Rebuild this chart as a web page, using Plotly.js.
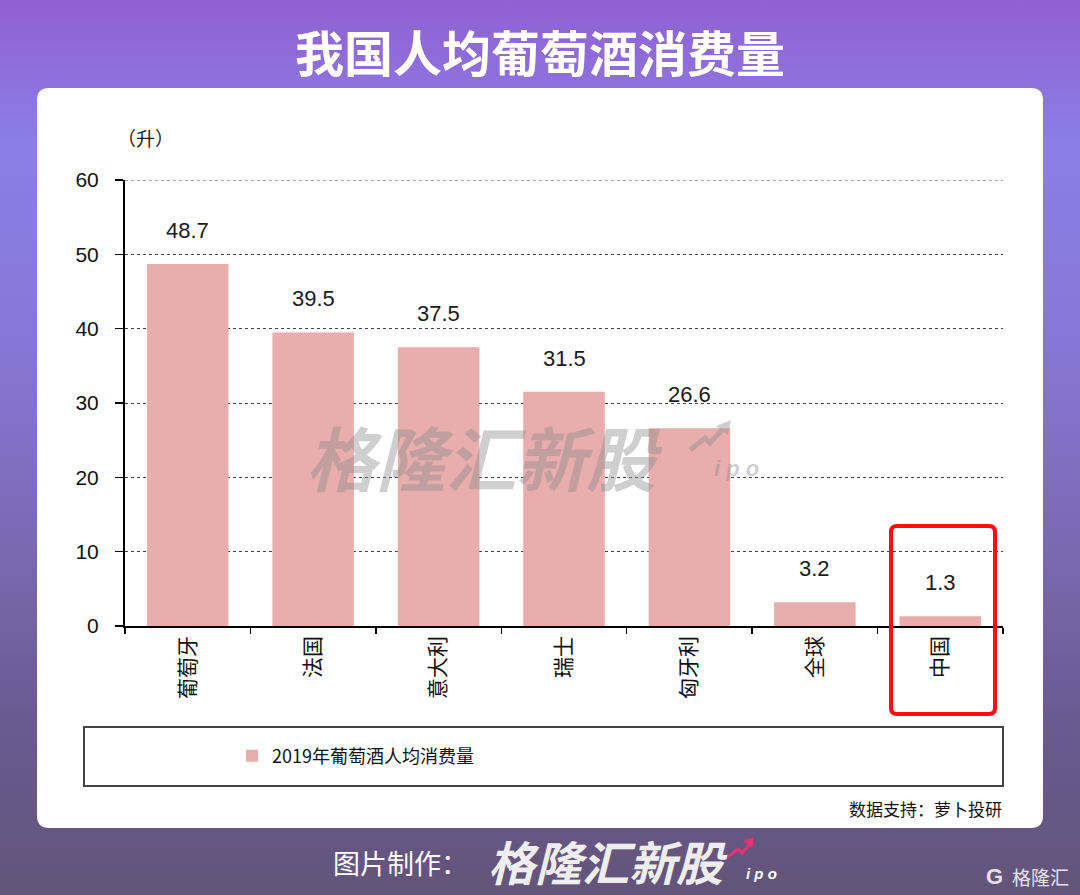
<!DOCTYPE html>
<html>
<head>
<meta charset="utf-8">
<script src="https://cdn.plot.ly/plotly-3.0.1.min.js"></script>
<style>
html,body{margin:0;padding:0;}
body{width:1080px;height:895px;overflow:hidden;
background:linear-gradient(180deg,#9160d2 0%,#8b7ee6 16%,#8676d4 40%,#7b68b0 62%,#6b5a92 80%,#63547a 100%);}
#chart{width:1080px;height:895px;}
</style>
</head>
<body>
<div id="chart"></div>
<script>
const categories = ["葡萄牙","法国","意大利","瑞士","匈牙利","全球","中国"];
const values = [48.7, 39.5, 37.5, 31.5, 26.6, 3.2, 1.3];
const valueLabels = ["48.7","39.5","37.5","31.5","26.6","3.2","1.3"];
const yTicks = [0,10,20,30,40,50,60];
const seriesName = "2019年葡萄酒人均消费量";
const chartTitle = "我国人均葡萄酒消费量";
const unitLabel = "（升）";
const sourceText = "数据支持：萝卜投研";
const footerText = "图片制作：";
const brandText = "格隆汇新股";

const W=1080,H=895,L=125,R=1003,T=180,B=626;
const fx = p => (p-L)/(R-L);
const fy = p => (B-p)/(B-T);
function rrect(x0,y0,x1,y1,r){
  const P=(x,y)=>fx(x).toFixed(5)+','+fy(y).toFixed(5);
  return 'M'+P(x0+r,y0)+' L'+P(x1-r,y0)+' Q'+P(x1,y0)+' '+P(x1,y0+r)+
    ' L'+P(x1,y1-r)+' Q'+P(x1,y1)+' '+P(x1-r,y1)+
    ' L'+P(x0+r,y1)+' Q'+P(x0,y1)+' '+P(x0,y1-r)+
    ' L'+P(x0,y0+r)+' Q'+P(x0,y0)+' '+P(x0+r,y0)+' Z';
}
function poly(pts){ return 'M'+pts.map(p=>fx(p[0]).toFixed(5)+','+fy(p[1]).toFixed(5)).join(' L'); }
const CJK = '"Noto Sans CJK SC", "Noto Sans", sans-serif';
const ARIAL = '"Liberation Sans", Arial, sans-serif';

const trace = {
  type:'bar', x:categories, y:values, name:seriesName,
  marker:{color:'#e8adac'}, width:0.65, showlegend:true,
  hoverinfo:'skip'
};

const annotations = [];
categories.forEach((c,i)=>{
  annotations.push({x:c, y:values[i], xref:'x', yref:'y', text:valueLabels[i],
    showarrow:false, yanchor:'bottom', yshift:19,
    font:{family:ARIAL, size:22, color:'#1a1a1a'}});
});
annotations.push({xref:'paper',yref:'paper',x:fx(540),y:fy(50),text:'<b>'+chartTitle+'</b>',
  showarrow:false,xanchor:'center',yanchor:'middle',font:{family:CJK,size:49,color:'#ffffff'}});
annotations.push({xref:'paper',yref:'paper',x:fx(145),y:fy(138),text:unitLabel,
  showarrow:false,xanchor:'center',yanchor:'middle',font:{family:CJK,size:19,color:'#1a1a1a'}});
annotations.push({xref:'paper',yref:'paper',x:fx(1004),y:fy(808),text:sourceText,
  showarrow:false,xanchor:'right',yanchor:'middle',font:{family:CJK,size:17,color:'#111111'}});
annotations.push({xref:'paper',yref:'paper',x:fx(400),y:fy(862),text:footerText,
  showarrow:false,xanchor:'center',yanchor:'middle',font:{family:CJK,size:27,color:'#ffffff'}});
annotations.push({xref:'paper',yref:'paper',x:fx(486),y:fy(860),text:'<b><i>'+brandText+'</i></b>',
  showarrow:false,xanchor:'left',yanchor:'middle',font:{family:CJK,size:47,color:'#eeeeee'}});
annotations.push({xref:'paper',yref:'paper',x:fx(744),y:fy(873),text:'<b><i>i p o</i></b>',
  showarrow:false,xanchor:'left',yanchor:'middle',font:{family:ARIAL,size:15,color:'#ffffff'}});
// watermark
annotations.push({xref:'paper',yref:'paper',x:fx(304),y:fy(455),text:'<b><i>'+brandText+'</i></b>',
  showarrow:false,xanchor:'left',yanchor:'middle',font:{family:CJK,size:70,color:'rgba(140,140,140,0.42)'}});
annotations.push({xref:'paper',yref:'paper',x:fx(712),y:fy(468),text:'<b><i>i p o</i></b>',
  showarrow:false,xanchor:'left',yanchor:'middle',font:{family:ARIAL,size:22,color:'rgba(140,140,140,0.42)'}});
// bottom-right logo
annotations.push({xref:'paper',yref:'paper',x:fx(1010),y:fy(876),text:'格隆汇',
  showarrow:false,xanchor:'left',yanchor:'middle',font:{family:CJK,size:19,color:'#e6e3ec'}});
annotations.push({xref:'paper',yref:'paper',x:fx(994),y:fy(876),text:'<b>G</b>',
  showarrow:false,xanchor:'center',yanchor:'middle',font:{family:ARIAL,size:22,color:'#e6e3ec'}});

const shapes = [
  {type:'path',xref:'paper',yref:'paper',path:rrect(37,88,1043,828,12),
   fillcolor:'#ffffff',line:{width:0},layer:'below'},
  {type:'line',xref:'paper',yref:'y',x0:0,x1:1,y0:60,y1:60,
   line:{color:'#444',width:1,dash:'dot'},layer:'below'},
  {type:'rect',xref:'paper',yref:'paper',x0:fx(84),x1:fx(1003),y0:fy(727),y1:fy(786),
   fillcolor:'rgba(0,0,0,0)',line:{color:'#444444',width:2},layer:'above'},
  {type:'path',xref:'paper',yref:'paper',path:rrect(891,526,995,714,6),
   fillcolor:'rgba(0,0,0,0)',line:{color:'#ff0d0d',width:4},layer:'above'},
  // pink arrow in footer brand
  {type:'path',xref:'paper',yref:'paper',
   path:poly([[728,857],[738,849],[742,853],[749,845]]),
   line:{color:'#e8336e',width:3},layer:'above'},
  {type:'path',xref:'paper',yref:'paper',
   path:poly([[744,841],[753,838],[752,847]])+' Z',
   fillcolor:'#e8336e',line:{color:'#e8336e',width:1},layer:'above'},
  // watermark arrow
  {type:'path',xref:'paper',yref:'paper',
   path:poly([[690,450],[705,438],[710,443],[722,430]]),
   line:{color:'rgba(140,140,140,0.42)',width:5},layer:'above'},
  {type:'path',xref:'paper',yref:'paper',
   path:poly([[716,426],[731,420],[728,435]])+' Z',
   fillcolor:'rgba(140,140,140,0.42)',line:{width:0},layer:'above'}
];

const layout = {
  width:W, height:H,
  margin:{l:L, r:W-R, t:T, b:H-B, pad:0},
  paper_bgcolor:'rgba(0,0,0,0)', plot_bgcolor:'rgba(0,0,0,0)',
  bargap:0.35,
  xaxis:{type:'category', range:[-0.5,6.5], tickson:'boundaries', ticks:'outside',
    ticklen:6, tickwidth:1.5, tickcolor:'#000', showline:true, linecolor:'#000', linewidth:1.5,
    tickangle:-90, tickfont:{family:CJK,size:21,color:'#111'}, showgrid:false, fixedrange:true},
  yaxis:{range:[0,60], tickvals:yTicks, ticktext:yTicks.map(String), ticks:'outside', ticklen:8,
    tickwidth:1.5, tickcolor:'#000', showline:true, linecolor:'#000', linewidth:2,
    showgrid:true, gridcolor:'#444', gridwidth:1, griddash:'dot', zeroline:false,
    ticklabelstandoff:12,
    tickfont:{family:ARIAL,size:21,color:'#111'}, fixedrange:true},
  showlegend:true,
  legend:{orientation:'h', x:fx(232), y:fy(756), xanchor:'left', yanchor:'middle',
    font:{family:CJK,size:18,color:'#111'}, bgcolor:'rgba(0,0,0,0)', borderwidth:0,
    itemwidth:30, tracegroupgap:0},
  annotations:annotations,
  shapes:shapes
};
Plotly.newPlot('chart',[trace],layout,{displayModeBar:false,staticPlot:true});
</script>
</body>
</html>
